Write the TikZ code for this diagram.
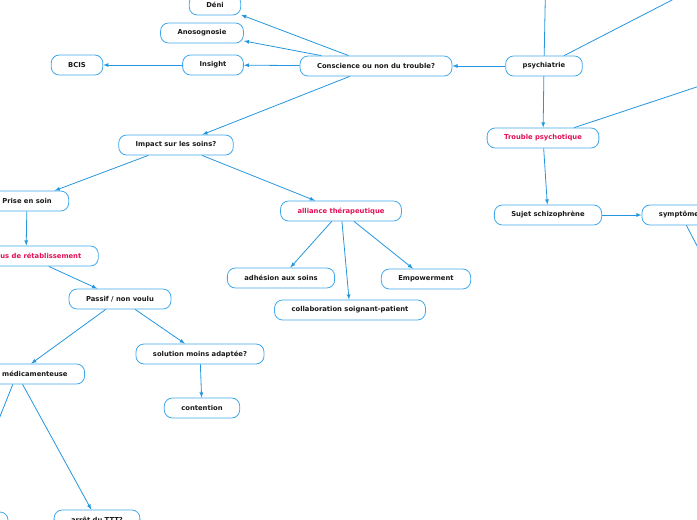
\documentclass[tikz,border=0pt]{standalone}
\usepackage{fontspec}
\newfontfamily\mapfont{DejaVu Sans}
\usepackage{tikz}
\definecolor{mapblue}{RGB}{36,150,222}
\definecolor{boxblue}{RGB}{64,168,236}
\definecolor{mappink}{RGB}{226,16,88}
\definecolor{maptext}{RGB}{26,26,26}
\tikzset{topic/.style = {draw=boxblue, fill=white, line width=0.8pt, rounded corners=8pt, minimum height=20pt, inner xsep=17pt, inner ysep=2pt, text=maptext, font=\mapfont\fontsize{6.8}{7}\selectfont\bfseries}}
\tikzset{keytopic/.style = {topic, text=mappink}}
\tikzset{link/.style = {color=mapblue, line width=0.8pt}}

\begin{document}
\begin{tikzpicture}[x=1pt, y=-1pt, >=latex]
  \useasboundingbox (0,0) rectangle (697,520);
  \clip (0,0) rectangle (697,520);

  \node [topic] (cons) at (376,66) {Conscience ou non du trouble?};
  \node [topic] (psy) at (544,66) {psychiatrie};
  \node [topic] (deni) at (215,5) {Déni};
  \node [topic] (anos) at (202,33) {Anosognosie};
  \node [topic] (ins) at (213,65) {Insight};
  \node [topic] (bcis) at (77,65) {BCIS};
  \node [topic] (impact) at (176,145) {Impact sur les soins?};
  \node [keytopic] (trouble) at (543,138) {Trouble psychotique};
  \node [topic] (sujet) at (548,215) {Sujet schizophrène};
  \node [topic] (sympt) at (681,215) {symptômes};

  \node [topic] (prise) at (27,201) {Prise en soin};
  \node [keytopic] (retab) at (26,256) {Processus de rétablissement};
  \node [topic] (passif) at (120,299) {Passif / non voulu};
  \node [topic, anchor=east] (medic) at (85,374) {\hspace*{36pt}médicamenteuse};
  \node [topic] (solut) at (200,354) {solution moins adaptée?};
  \node [topic] (cont) at (202,408) {contention};
  \node [topic] (arret) at (97,520) {arrêt du TTT?};
  \node [topic, minimum width=100pt] (autre) at (-42,522) {};

  \node [keytopic] (alli) at (341,211) {alliance thérapeutique};
  \node [topic] (adh) at (281,278) {adhésion aux soins};
  \node [topic] (collab) at (350,310) {collaboration soignant-patient};
  \node [topic] (empow) at (426,279) {Empowerment};

  % free ends going out of the page
  \coordinate (psyup) at (546,-40);
  \coordinate (psyright) at (740,-35);
  \coordinate (troubleright) at (760,66);
  \coordinate (symptdown) at (720,290);

  \draw[link] (psy) -- (psyup);
  \draw[link] (psy) -- (psyright);
  \draw[link] (trouble) -- (troubleright);
  \draw[link] (sympt) -- (symptdown);

  \path[link, ->] (psy) edge (cons);
  \path[link, ->] (psy) edge (trouble);
  \path[link, ->] (trouble) edge (sujet);
  \path[link, ->] (sujet) edge (sympt);

  \path[link, ->] (cons) edge (deni);
  \path[link, ->] (cons) edge (anos);
  \path[link, ->] (cons) edge (ins);
  \path[link, ->] (ins) edge (bcis);
  \path[link, ->] (cons) edge (impact);

  \path[link, ->] (impact) edge (prise);
  \path[link, ->] (impact) edge (alli);
  \path[link, ->] (alli) edge (adh);
  \path[link, ->] (alli) edge (collab);
  \path[link, ->] (alli) edge (empow);

  \path[link, ->] (prise) edge (retab);
  \path[link, ->] (retab) edge (passif);
  \path[link, ->] (passif) edge (medic);
  \path[link, ->] (passif) edge (solut);
  \path[link, ->] (solut) edge (cont);
  \path[link, ->] (medic) edge (arret);
  \path[link, ->] (medic) edge (autre);
\end{tikzpicture}
\end{document}
